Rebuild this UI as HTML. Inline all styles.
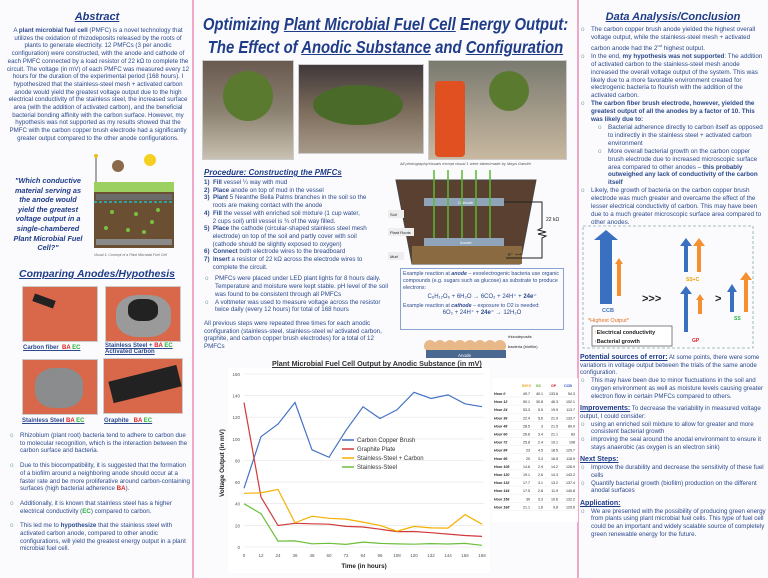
<!DOCTYPE html>
<html><head><meta charset="utf-8">
<style>
*{margin:0;padding:0;box-sizing:border-box}
body{width:768px;height:578px;overflow:hidden;background:#fbfbfd;font-family:"Liberation Sans",sans-serif;color:#2c4a8c;position:relative}
.a{position:absolute}
.t{font-size:6.2px;line-height:7.7px}
.c{text-align:center}
h2{position:absolute;font-style:italic;font-weight:bold;text-decoration:underline;color:#1f3c88;font-size:11px;line-height:13px}
h3{font-size:7px;font-weight:bold;text-decoration:underline;color:#1f3c88;display:inline}
ul{list-style:none}
li{position:relative;padding-left:11px}
li:before{content:"o";position:absolute;left:1px;color:#8aa}
.ph{position:absolute;border:1px solid #ccc}
.lab{font-size:6px;font-weight:bold;text-decoration:underline;color:#2c4a8c}
.r{color:#e02020;font-weight:bold}.g{color:#2ab03a;font-weight:bold}
</style></head><body>
<div class="a" style="left:192px;top:0;width:1.5px;height:578px;background:#f0a8c8"></div>
<div class="a" style="left:577px;top:0;width:1.5px;height:578px;background:#f0a8c8"></div>

<h2 style="left:0;width:194px;top:11px;text-align:center">Abstract</h2>
<div class="a t c" style="left:6px;top:27px;width:184px">A <b>plant microbial fuel cell</b> (PMFC) is a novel technology that utilizes the oxidation of rhizodeposits released by the roots of plants to generate electricity. 12 PMFCs (3 per anodic configuration) were constructed, with the anode and cathode of each PMFC connected by a load resistor of 22 kΩ to complete the circuit. The voltage (in mV) of each PMFC was measured every 12 hours for the duration of the experimental period (168 hours). I hypothesized that the stainless-steel mesh + activated carbon anode would yield the greatest voltage output due to the high electrical conductivity of the stainless steel, the increased surface area (with the addition of activated carbon), and the beneficial bacterial bonding affinity with the carbon surface. However, my hypothesis was not supported as my results showed that the PMFC with the carbon copper brush electrode had a significantly greater output compared to the other anode configurations.</div>

<div class="a c" style="left:12px;top:176px;width:72px;font-size:7.3px;line-height:9.6px;font-weight:bold;font-style:italic;color:#1f3c88">"Which conductive material serving as the anode would yield the greatest voltage output in a single-chambered Plant Microbial Fuel Cell?"</div>
<svg class="a" style="left:92px;top:152px" width="86" height="112">
<circle cx="4" cy="4" r="2" fill="#e8c020"/><line x1="4" y1="6" x2="4" y2="90" stroke="#555"/>
<circle cx="58" cy="8" r="6" fill="#f5d020"/><circle cx="26" cy="14" r="6" fill="#8a6a4a"/>
<rect x="2" y="30" width="80" height="10" fill="#9cd060"/>
<rect x="2" y="40" width="80" height="56" fill="#6b4f33"/>
<rect x="4" y="42" width="76" height="6" fill="#6a6a6a"/><line x1="2" y1="50" x2="82" y2="50" stroke="#30a0a0" stroke-width="2" stroke-dasharray="3 2"/>
<rect x="4" y="87" width="76" height="6" fill="#8a8a8a"/>
<g fill="#7ac040"><circle cx="20" cy="60" r="2"/><circle cx="44" cy="62" r="2"/><circle cx="60" cy="70" r="2"/><circle cx="14" cy="76" r="2"/><circle cx="36" cy="78" r="2"/><circle cx="66" cy="58" r="2"/><circle cx="52" cy="80" r="2"/></g>
<text x="2" y="104" font-size="3.5" fill="#666" font-style="italic">Visual 1: Concept of a Plant Microbial Fuel Cell</text>
</svg>
<h2 style="left:0;width:194px;top:268px;text-align:center;font-size:10.5px">Comparing Anodes/Hypothesis</h2>
<div class="ph" style="left:22px;top:286px;width:76px;height:56px;background:#d9674a"><div class="a" style="left:10px;top:10px;width:22px;height:8px;background:#222;transform:rotate(20deg)"></div></div>
<div class="ph" style="left:105px;top:286px;width:76px;height:56px;background:#d9674a"><div class="a" style="left:10px;top:8px;width:55px;height:42px;background:#9a9a9a;border-radius:40%"></div><div class="a" style="left:22px;top:12px;width:30px;height:22px;background:#222;border-radius:40%"></div></div>
<div class="a lab" style="left:23px;top:345px">Carbon fiber <span class="r">&nbsp;BA</span><span class="g"> EC</span></div>
<div class="a lab" style="left:105px;top:343px;width:90px">Stainless Steel + <span class="r">BA</span><span class="g"> EC</span><br>Activated Carbon</div>
<div class="ph" style="left:22px;top:359px;width:76px;height:56px;background:#d9674a"><div class="a" style="left:12px;top:8px;width:48px;height:40px;background:#8a8c8e;border-radius:40%"></div></div>
<div class="ph" style="left:103px;top:358px;width:80px;height:56px;background:#d9674a"><div class="a" style="left:6px;top:14px;width:70px;height:22px;background:#222;transform:rotate(-14deg)"></div></div>
<div class="a lab" style="left:22px;top:418px">Stainless Steel <span class="r">BA</span><span class="g"> EC</span></div>
<div class="a lab" style="left:104px;top:418px">Graphite &nbsp;&nbsp;<span class="r">BA</span><span class="g"> EC</span></div>
<ul class="a t" style="left:9px;top:432px;width:182px">
<li style="margin-bottom:7px">Rhizobium (plant root) bacteria tend to adhere to carbon due to molecular recognition, which is the interaction between the carbon surface and bacteria.</li>
<li style="margin-bottom:7px">Due to this biocompatibility, it is suggested that the formation of a biofilm around a neighboring anode should occur at a faster rate and be more proliferative around carbon-containing surfaces (high bacterial adherence <span class="r">BA</span>).</li>
<li style="margin-bottom:7px">Additionally, it is known that stainless steel has a higher electrical conductivity (<span class="g">EC</span>) compared to carbon.</li>
<li>This led me to <b>hypothesize</b> that the stainless steel with activated carbon anode, compared to other anodic configurations, will yield the greatest energy output in a plant microbial fuel cell.</li>
</ul>

<div class="a c" style="left:134px;top:13px;width:503px;font-size:17.5px;line-height:23px;font-weight:bold;font-style:italic;color:#1f3c88;white-space:nowrap;transform:scaleX(0.85);transform-origin:center">Optimizing <u>Plant Microbial Fuel Cell</u> Energy Output:<br>The Effect of <u>Anodic Substance</u> and <u>Configuration</u></div>
<div class="ph" style="left:202px;top:60px;width:92px;height:100px;background:linear-gradient(#6a5a50,#8a8070 50%,#c8c0b0)"><div class="a" style="left:20px;top:10px;width:50px;height:50px;background:#5a7a30;border-radius:50%"></div></div>
<div class="ph" style="left:298px;top:64px;width:126px;height:90px;background:linear-gradient(#40383a,#7a6a5a 50%,#a89a88)"><div class="a" style="left:14px;top:20px;width:90px;height:40px;background:#4a6a2a;border-radius:50%"></div></div>
<div class="ph" style="left:428px;top:60px;width:139px;height:100px;background:linear-gradient(#7a7a70,#c8b8a0)"><div class="a" style="left:6px;top:20px;width:30px;height:76px;background:#e05020;border-radius:4px"></div><div class="a" style="left:60px;top:10px;width:40px;height:40px;background:#5a7a30;border-radius:50%"></div></div>
<div class="a" style="left:400px;top:161px;font-size:4px;color:#555;font-style:italic">All photography/visuals except visual 1 were taken/made by Maya Gandhi</div>

<div class="a" style="left:204px;top:166px;line-height:10px"><h3 style="font-size:8px;font-style:italic">Procedure: Constructing the PMFCs</h3></div>
<div class="a t" style="left:204px;top:179px;width:186px">
<div><b>1)&nbsp; Fill</b> vessel ¼ way with mud</div>
<div><b>2)&nbsp; Place</b> anode on top of mud in the vessel</div>
<div><b>3)&nbsp; Plant</b> 5 Neanthe Bella Palms branches in the soil so the<br>&nbsp;&nbsp;&nbsp;&nbsp; roots are making contact with the anode</div>
<div><b>4)&nbsp; Fill</b> the vessel with enriched soil mixture (1 cup water,<br>&nbsp;&nbsp;&nbsp;&nbsp; 2 cups soil) until vessel is ¾ of the way filled.</div>
<div><b>5)&nbsp; Place</b> the cathode (circular-shaped stainless steel mesh<br>&nbsp;&nbsp;&nbsp;&nbsp; electrode) on top of the soil and partly cover with soil<br>&nbsp;&nbsp;&nbsp;&nbsp; (cathode should be slightly exposed to oxygen)</div>
<div><b>6)&nbsp; Connect</b> both electrode wires to the breadboard</div>
<div><b>7)&nbsp; Insert</b> a resistor of 22 kΩ across the electrode wires to<br>&nbsp;&nbsp;&nbsp;&nbsp; complete the circuit.</div>
<ul style="margin-top:4px"><li>PMFCs were placed under LED plant lights for 8 hours daily. Temperature and moisture were kept stable. pH level of the soil was found to be consistent through all PMFCs</li>
<li>A voltmeter was used to measure voltage across the resistor twice daily (every 12 hours) for total of 168 hours</li></ul>
<div style="margin-top:6px">All previous steps were repeated three times for each anodic configuration (stainless-steel, stainless-steel w/ activated carbon, graphite, and carbon copper brush electrodes) for a total of 12 PMFCs</div>
</div>

<svg class="a" style="left:388px;top:168px" width="180" height="100">
<polygon points="8,12 148,12 132,96 24,96" fill="#5a4030" stroke="#444"/>
<rect x="24" y="78" width="110" height="18" fill="#8a6a40"/>
<rect x="36" y="30" width="80" height="8" fill="#8fa4b8"/><text x="70" y="36" font-size="4" fill="#fff">Cathode</text>
<rect x="36" y="70" width="80" height="8" fill="#8fa4b8"/><text x="72" y="76" font-size="4" fill="#fff">Anode</text>
<g stroke="#5ab830" stroke-width="1.5"><line x1="46" y1="2" x2="46" y2="70"/><line x1="60" y1="2" x2="60" y2="70"/><line x1="74" y1="2" x2="74" y2="70"/><line x1="88" y1="2" x2="88" y2="70"/><line x1="102" y1="2" x2="102" y2="70"/></g>
<polyline points="116,34 154,34 154,60 150,62 158,64 150,66 158,68 154,70 154,90 118,90" fill="none" stroke="#222"/>
<text x="158" y="53" font-size="5" fill="#222">22 kΩ</text>
<rect x="0" y="42" width="16" height="8" fill="#eee"/><text x="2" y="48" font-size="4" fill="#222">Soil</text>
<rect x="0" y="60" width="26" height="8" fill="#eee"/><text x="2" y="66" font-size="4" fill="#222">Plant Roots</text>
<rect x="0" y="84" width="16" height="8" fill="#eee"/><text x="2" y="90" font-size="4" fill="#222" font-style="italic">Mud</text>
<text x="120" y="88" font-size="5" fill="#222">e⁻ ⟶</text>
</svg>
<div class="a t c" style="left:400px;top:268px;width:164px;height:62px;border:1px solid #8aa4d0;padding:2px;font-size:5.3px;line-height:7px;text-align:left">Example reaction at <b><i>anode</i></b> – exoelectrogenic bacteria use organic compounds (e.g. sugars such as glucose) as substrate to produce electrons:<div class="c" style="font-size:6px;margin:2px 0">C₆H₁₂O₆ + 6H₂O → 6CO₂ + 24H⁺ + <b>24e⁻</b></div>Example reaction at <b><i>cathode</i></b> – exposure to O2 is needed:<div class="c" style="font-size:6px">6O₂ + 24H⁺ + <b>24e⁻</b> → 12H₂O</div></div>
<svg class="a" style="left:420px;top:332px" width="120" height="28">
<g fill="#e8b888"><circle cx="10" cy="14" r="6"/><circle cx="20" cy="14" r="6"/><circle cx="30" cy="14" r="6"/><circle cx="40" cy="14" r="6"/><circle cx="50" cy="14" r="6"/><circle cx="60" cy="14" r="6"/><circle cx="70" cy="14" r="6"/><circle cx="80" cy="14" r="6"/></g>
<rect x="6" y="18" width="80" height="8" fill="#4a6890"/><text x="38" y="25" font-size="4.5" fill="#fff">Anode</text>
<text x="88" y="6" font-size="4" fill="#222">rhizodeposits</text><text x="88" y="16" font-size="4" fill="#222">bacteria (biofilm)</text>
</svg>

<div class="a" style="left:272px;top:359px;font-size:7.2px;font-weight:bold;text-decoration:underline;color:#333">Plant Microbial Fuel Cell Output by Anodic Substance (in mV)</div>
<svg class="a" style="left:214px;top:368px" width="276" height="210" font-family="Liberation Sans">
<rect x="14" y="0" width="262" height="205" fill="#fff"/>
<g stroke="#e4e4e4" stroke-width="0.6">
<line x1="30" y1="6" x2="270" y2="6"/><line x1="30" y1="27.6" x2="270" y2="27.6"/><line x1="30" y1="49.2" x2="270" y2="49.2"/><line x1="30" y1="70.9" x2="270" y2="70.9"/><line x1="30" y1="92.5" x2="270" y2="92.5"/><line x1="30" y1="114.1" x2="270" y2="114.1"/><line x1="30" y1="135.7" x2="270" y2="135.7"/><line x1="30" y1="157.4" x2="270" y2="157.4"/><line x1="30" y1="179" x2="270" y2="179"/></g>
<g font-size="4.5" fill="#555" text-anchor="end"><text x="26" y="8">160</text><text x="26" y="29.6">140</text><text x="26" y="51.2">120</text><text x="26" y="72.9">100</text><text x="26" y="94.5">80</text><text x="26" y="116.1">60</text><text x="26" y="137.7">40</text><text x="26" y="159.4">20</text><text x="26" y="181">0</text></g>
<g font-size="4.5" fill="#555" text-anchor="middle"><text x="30" y="189">0</text><text x="47" y="189">12</text><text x="64" y="189">24</text><text x="81" y="189">36</text><text x="98" y="189">48</text><text x="115" y="189">60</text><text x="132" y="189">72</text><text x="149" y="189">84</text><text x="166" y="189">96</text><text x="183" y="189">108</text><text x="200" y="189">120</text><text x="217" y="189">132</text><text x="234" y="189">144</text><text x="251" y="189">156</text><text x="268" y="189">168</text></g>
<text x="150" y="200" font-size="6.3" font-weight="bold" fill="#222" text-anchor="middle">Time (in hours)</text>
<text transform="translate(10,95) rotate(-90)" font-size="6.3" font-weight="bold" fill="#222" text-anchor="middle">Voltage Output (in mV)</text>
<g fill="none" stroke-width="1.2">
<polyline stroke="#4472c4" points="30,120.3 47,68.7 64,56.1 81,34.5 98,81.8 115,89.3 132,62.3 149,38.8 166,50.5 183,41.8 200,24.3 217,30.5 234,26.9 251,35.8 268,38.7"/>
<polyline stroke="#d03a3a" points="30,34.6 47,129 64,157.5 81,155.3 98,155.8 115,156.2 132,158.4 149,159 166,161.2 183,163.6 200,163.5 217,164.7 234,166.1 251,167.5 268,168.4"/>
<polyline stroke="#f5b000" points="30,125.3 47,124.9 64,121.4 81,154.8 98,148.2 115,150.3 132,151.1 149,154.1 166,157.4 183,163.2 200,158.4 217,159.9 234,160.1 251,146.6 268,156.2"/>
<polyline stroke="#6cbf3c" points="30,135.7 47,145.7 64,173.1 81,172.9 98,175.8 115,175.3 132,176.4 149,174.1 166,175.4 183,175.9 200,176.2 217,175.6 234,176 251,175.4 268,177.3"/>
</g>
<g font-size="6" fill="#333"><line x1="128" y1="72" x2="140" y2="72" stroke="#4472c4" stroke-width="1.5"/><text x="143" y="74">Carbon Copper Brush</text>
<line x1="128" y1="81" x2="140" y2="81" stroke="#d03a3a" stroke-width="1.5"/><text x="143" y="83">Graphite Plate</text>
<line x1="128" y1="90" x2="140" y2="90" stroke="#f5b000" stroke-width="1.5"/><text x="143" y="92">Stainless-Steel + Carbon</text>
<line x1="128" y1="99" x2="140" y2="99" stroke="#6cbf3c" stroke-width="1.5"/><text x="143" y="101">Stainless-Steel</text></g>
</svg>
<svg class="a" style="left:492px;top:378px" width="86" height="144" font-family="Liberation Sans" font-size="3.6">
<rect width="86" height="144" fill="#fff"/>
<g font-weight="bold"><text x="30" y="9" fill="#e8a000">SS+C</text><text x="44" y="9" fill="#5ab030">SS</text><text x="59" y="9" fill="#d02020">GP</text><text x="72" y="9" fill="#3050c0">CCB</text></g>
<g id="rows" fill="#222"></g>
</svg>
<script>
var d=[[49.7,40.1,133.6,54.3],[50.1,30.8,46.3,102.1],[53.3,5.5,19.9,113.7],[22.4,5.6,21.9,133.7],[28.5,3,21.5,89.9],[26.6,3.4,21.1,83],[25.8,2.4,19.1,108],[23,4.5,18.5,129.7],[20,3.3,16.5,118.9],[14.6,2.9,14.2,126.9],[19.1,2.6,14.3,143.2],[17.7,3.1,13.2,137.4],[17.5,2.8,11.9,140.8],[30,3.3,10.6,132.2],[21.1,1.6,9.8,129.6]];
var g=document.getElementById('rows'),s='';
d.forEach(function(r,i){var y=17+i*8.1;s+='<text x="2" y="'+y+'" font-style="italic" font-weight="bold">Hour '+(i*12)+'</text>';var xs=[38,51,66,83];r.forEach(function(v,j){s+='<text x="'+xs[j]+'" y="'+y+'" text-anchor="end">'+v+'</text>'});s+='<line x1="0" x2="86" y1="'+(y+2)+'" y2="'+(y+2)+'" stroke="#ddd" stroke-width="0.3"/>'});
g.innerHTML=s;
</script>

<h2 style="left:578px;width:190px;top:11px;text-align:center">Data Analysis/Conclusion</h2>
<ul class="a t" style="left:580px;top:26px;width:186px;font-size:6.3px;line-height:7.9px">
<li>The carbon copper brush anode yielded the highest overall voltage output, while the stainless-steel mesh + activated carbon anode had the 2<sup style="font-size:4px">nd</sup> highest output.</li>
<li>In the end, <b>my hypothesis was not supported</b>: The addition of activated carbon to the stainless-steel mesh anode increased the overall voltage output of the system. This was likely due to a more favorable environment created for electrogenic bacteria to flourish with the addition of the activated carbon.</li>
<li><b>The carbon fiber brush electrode, however, yielded the greatest output of all the anodes by a factor of 10. This was likely due to:</b>
<ul style="margin-left:6px"><li>Bacterial adherence directly to carbon itself as opposed to indirectly in the stainless steel + activated carbon environment</li><li>More overall bacterial growth on the carbon copper brush electrode due to increased microscopic surface area compared to other anodes – <b>this probably outweighed any lack of conductivity of the carbon itself</b></li></ul></li>
<li>Likely, the growth of bacteria on the carbon copper brush electrode was much greater and overcame the effect of the lesser electrical conductivity of carbon. This may have been due to a much greater microscopic surface area compared to other anodes.</li>
</ul>
<svg class="a" style="left:580px;top:224px" width="190" height="126" font-family="Liberation Sans">
<rect x="3" y="2" width="170" height="122" fill="none" stroke="#8aa" stroke-dasharray="3 2" stroke-width="0.8"/>
<polygon points="20,80 20,16 14,16 26,6 38,16 32,16 32,80" fill="#3a70c0"/>
<polygon points="37,72 37,40 35,40 39,34 43,40 41,40 41,72" fill="#f59030"/>
<text x="22" y="88" font-size="5.5" fill="#3a70c0" font-weight="bold">CCB</text>
<text x="8" y="98" font-size="5.5" fill="#e07020">*Highest Output*</text>
<text x="62" y="78" font-size="11" fill="#222" font-weight="bold">&gt;&gt;&gt;</text>
<text x="135" y="78" font-size="11" fill="#222" font-weight="bold">&gt;</text>
<polygon points="104,48 104,22 100,22 106,14 112,22 108,22 108,48" fill="#3a70c0"/>
<polygon points="117,48 117,22 113,22 119,14 125,22 121,22 121,48" fill="#f59030"/>
<text x="106" y="57" font-size="5" fill="#e8a000" font-weight="bold">SS+C</text>
<polygon points="104,108 104,70 100,70 106,62 112,70 108,70 108,108" fill="#3a70c0"/>
<polygon points="118,90 118,76 116,76 120,70 124,76 122,76 122,90" fill="#f59030"/>
<text x="112" y="118" font-size="5" fill="#e02020" font-weight="bold">GP</text>
<polygon points="150,88 150,68 147,68 152,60 157,68 154,68 154,88" fill="#3a70c0"/>
<polygon points="164,88 164,56 160,56 166,48 172,56 168,56 168,88" fill="#f59030"/>
<text x="154" y="96" font-size="5" fill="#2ab03a" font-weight="bold">SS</text>
<rect x="12" y="102" width="80" height="20" fill="#fff" stroke="#333" stroke-width="0.6"/>
<text x="14" y="110" font-size="5.5" font-weight="bold" fill="#222"><tspan fill="#f59030">↑</tspan>Electrical conductivity</text>
<text x="14" y="119" font-size="5.5" font-weight="bold" fill="#222"><tspan fill="#3a70c0">↑</tspan>Bacterial growth</text>
</svg>
<div class="a t" style="left:580px;top:354px;width:186px">
<div><h3>Potential sources of error:</h3> At some points, there were some variations in voltage output between the trials of the same anode configuration.</div>
<ul><li>This may have been due to minor fluctuations in the soil and oxygen environment as well as moisture levels causing greater electron flow in certain PMFCs compared to others.</li></ul>
<div style="margin-top:5px"><h3>Improvements:</h3> To decrease the variability in measured voltage output, I could consider:</div>
<ul><li>using an enriched soil mixture to allow for greater and more consistent bacterial growth</li><li>improving the seal around the anodal environment to ensure it stays anaerobic (as oxygen is an electron sink)</li></ul>
<div style="margin-top:5px"><h3>Next Steps:</h3></div>
<ul><li>Improve the durability and decrease the sensitivity of these fuel cells</li><li>Quantify bacterial growth (biofilm) production on the different anodal surfaces</li></ul>
<div style="margin-top:5px"><h3>Application:</h3></div>
<ul><li>We are presented with the possibility of producing green energy from plants using plant microbial fuel cells. This type of fuel cell could be an important and widely scalable source of completely green renewable energy for the future.</li></ul>
</div>
</body></html>
